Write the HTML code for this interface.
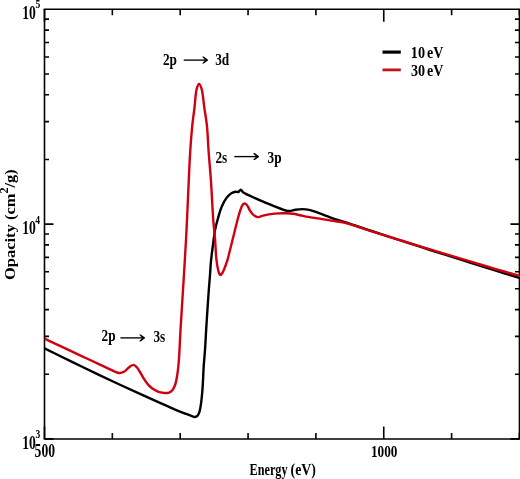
<!DOCTYPE html>
<html><head><meta charset="utf-8"><title>Opacity plot</title>
<style>html,body{margin:0;padding:0;background:#fff;}svg{display:block;}</style>
</head><body>
<svg width="520" height="479" viewBox="0 0 520 479">
<rect width="520" height="479" fill="#fff"/>
<g font-family="'Liberation Serif', serif" font-weight="bold" fill="#000">
<text transform="translate(22.13,18.80) scale(0.7640,1)" font-size="17.80">10</text><text transform="translate(35.53,8.40) scale(0.7619,1)" font-size="12.60">5</text><text transform="translate(22.13,233.60) scale(0.7640,1)" font-size="17.80">10</text><text transform="translate(35.22,223.60) scale(0.7619,1)" font-size="12.60">4</text><text transform="translate(22.13,448.50) scale(0.7640,1)" font-size="17.80">10</text><text transform="translate(35.38,438.30) scale(0.7619,1)" font-size="12.60">3</text><text transform="translate(34.60,457.30) scale(0.7640,1)" font-size="17.80">500</text><text transform="translate(370.94,456.80) scale(0.7791,1)" font-size="17.00">1000</text><text transform="translate(249.57,474.70) scale(0.7137,1)" font-size="17.10">Energy</text><text transform="translate(290.58,474.70) scale(0.8110,1)" font-size="17.10">(eV)</text><text transform="translate(410.86,57.75) scale(0.8356,1)" font-size="17.00">10</text><text transform="translate(426.91,57.75) scale(0.8246,1)" font-size="17.00">eV</text><text transform="translate(410.93,75.75) scale(0.8312,1)" font-size="17.00">30</text><text transform="translate(426.91,75.75) scale(0.8246,1)" font-size="17.00">eV</text><text transform="translate(162.98,64.50) scale(0.7733,1)" font-size="17.20">2p</text><text transform="translate(215.23,64.60) scale(0.7733,1)" font-size="17.20">3d</text><text transform="translate(215.38,162.80) scale(0.7733,1)" font-size="17.20">2s</text><text transform="translate(267.53,162.80) scale(0.7733,1)" font-size="17.20">3p</text><text transform="translate(101.53,341.10) scale(0.7733,1)" font-size="17.20">2p</text><text transform="translate(153.48,341.50) scale(0.7733,1)" font-size="17.20">3s</text><text transform="translate(15.2,280.0) rotate(-90) scale(1.056,1)" font-size="15.6">Opacity (cm<tspan font-size="11.5" dy="-7">2</tspan><tspan dy="7">/g)</tspan></text>
</g>
<path d="M183.7,60.1H205.50" stroke="#000" stroke-width="1.35" fill="none"/><path d="M202.10,56.80 L203.70,56.60 L208.00,59.65 L208.00,60.55 L203.70,63.60 L202.10,63.40 L205.20,60.10 Z" fill="#000"/><path d="M234.3,156.6H256.50" stroke="#000" stroke-width="1.35" fill="none"/><path d="M253.10,153.30 L254.70,153.10 L259.00,156.15 L259.00,157.05 L254.70,160.10 L253.10,159.90 L256.20,156.60 Z" fill="#000"/><path d="M120.4,337.9H142.50" stroke="#000" stroke-width="1.35" fill="none"/><path d="M139.10,334.60 L140.70,334.40 L145.00,337.45 L145.00,338.35 L140.70,341.40 L139.10,341.20 L142.20,337.90 Z" fill="#000"/>
<path d="M44.50,438.90V426.40 M44.50,9.30V21.80 M112.35,438.90V432.90 M112.35,9.30V15.30 M180.20,438.90V432.90 M180.20,9.30V15.30 M248.05,438.90V432.90 M248.05,9.30V15.30 M315.90,438.90V432.90 M315.90,9.30V15.30 M383.75,438.90V426.40 M383.75,9.30V21.80 M451.60,438.90V432.90 M451.60,9.30V15.30 M519.45,438.90V432.90 M519.45,9.30V15.30 M44.50,438.90H53.50 M519.45,438.90H510.45 M44.50,374.24H49.00 M519.45,374.24H514.95 M44.50,336.41H49.00 M519.45,336.41H514.95 M44.50,309.58H49.00 M519.45,309.58H514.95 M44.50,288.76H49.00 M519.45,288.76H514.95 M44.50,271.75H49.00 M519.45,271.75H514.95 M44.50,257.37H49.00 M519.45,257.37H514.95 M44.50,244.92H49.00 M519.45,244.92H514.95 M44.50,233.93H49.00 M519.45,233.93H514.95 M44.50,224.10H53.50 M519.45,224.10H510.45 M44.50,159.44H49.00 M519.45,159.44H514.95 M44.50,121.61H49.00 M519.45,121.61H514.95 M44.50,94.78H49.00 M519.45,94.78H514.95 M44.50,73.96H49.00 M519.45,73.96H514.95 M44.50,56.95H49.00 M519.45,56.95H514.95 M44.50,42.57H49.00 M519.45,42.57H514.95 M44.50,30.12H49.00 M519.45,30.12H514.95 M44.50,19.13H49.00 M519.45,19.13H514.95" stroke="#000" stroke-width="1.6" fill="none"/>
<path d="M43.70,9.30H520.25M43.70,438.90H520.25" stroke="#000" stroke-width="1.5" fill="none"/>
<path d="M44.50,9.30V438.90M519.45,9.30V438.90" stroke="#000" stroke-width="1.6" fill="none"/>
<g clip-path="url(#c)">
<path d="M44.50,348.29 C47.08,349.57 54.50,353.29 60.00,356.00 C66.24,359.08 73.33,362.55 80.00,365.78 C86.66,369.00 93.33,372.19 100.00,375.35 C106.66,378.51 113.33,381.64 120.00,384.74 C126.66,387.83 133.33,390.89 140.00,393.92 C146.66,396.95 153.81,400.16 160.00,402.92 C165.35,405.30 170.36,407.59 175.00,409.53 C178.96,411.18 183.10,412.75 186.10,413.90 C188.14,414.68 189.66,415.25 191.25,415.80 C192.59,416.26 193.90,417.08 195.00,417.00 C195.90,416.93 196.73,416.45 197.40,415.80 C198.22,415.01 198.77,413.75 199.30,412.30 C200.05,410.26 200.43,407.56 200.90,404.50 C201.56,400.23 202.05,394.70 202.50,389.00 C203.05,382.01 203.28,372.61 203.75,365.60 C204.13,359.87 204.61,355.67 205.00,350.00 C205.47,343.21 205.86,334.74 206.30,327.60 C206.70,321.06 207.08,315.07 207.50,308.80 C207.92,302.53 208.36,295.91 208.80,290.00 C209.19,284.72 209.64,279.82 210.00,275.00 C210.33,270.51 210.51,266.24 210.90,262.00 C211.28,257.92 211.83,253.82 212.30,250.00 C212.73,246.51 213.15,243.32 213.60,240.00 C214.05,236.72 214.31,233.70 215.00,230.20 C215.82,226.06 217.20,220.92 218.40,216.80 C219.45,213.20 220.30,210.00 221.70,206.80 C223.10,203.60 224.89,200.02 226.80,197.60 C228.33,195.65 230.16,193.99 231.80,193.00 C233.05,192.25 234.34,191.83 235.50,191.70 C236.48,191.59 237.45,192.29 238.30,192.00 C239.24,191.68 240.02,189.56 240.80,189.60 C241.55,189.64 242.11,191.42 242.90,192.10 C243.65,192.74 244.37,193.05 245.40,193.60 C246.97,194.44 249.14,195.41 251.50,196.50 C254.74,198.00 259.22,200.06 263.10,201.70 C266.93,203.32 270.76,204.81 274.60,206.30 C278.42,207.78 283.34,209.94 286.10,210.60 C287.58,210.95 288.29,211.06 289.60,211.00 C291.30,210.92 293.37,210.11 295.40,209.80 C297.59,209.46 300.00,209.10 302.30,209.10 C304.60,209.10 307.02,209.34 309.20,209.80 C311.24,210.23 312.91,210.98 315.00,211.70 C317.48,212.55 320.25,213.53 323.10,214.60 C326.33,215.81 329.84,217.38 333.40,218.60 C337.13,219.87 340.41,220.60 345.00,222.04 C351.77,224.18 361.66,227.61 370.00,230.37 C378.33,233.13 386.66,235.87 395.00,238.59 C403.33,241.32 411.66,244.02 420.00,246.71 C428.33,249.39 436.66,252.06 445.00,254.71 C453.33,257.36 461.66,260.00 470.00,262.61 C478.33,265.23 486.66,267.82 495.00,270.40 C503.33,272.98 515.83,276.80 520.00,278.08" stroke="#000" stroke-width="2.4" fill="none" stroke-linejoin="round"/>
<path d="M44.50,338.70 C47.08,339.91 54.50,343.38 60.00,345.95 C66.24,348.87 73.33,352.19 80.00,355.30 C86.67,358.41 94.48,362.02 100.00,364.60 C103.91,366.43 107.24,368.01 110.00,369.30 C111.95,370.21 113.41,370.96 115.00,371.60 C116.39,372.16 117.58,372.93 119.00,373.00 C120.56,373.08 122.41,372.63 124.00,371.80 C125.84,370.84 127.48,368.40 129.20,367.20 C130.64,366.20 132.17,364.80 133.50,364.90 C134.76,364.99 135.96,366.41 137.00,367.50 C138.16,368.72 138.97,370.33 140.00,372.00 C141.23,373.99 142.54,376.72 143.80,378.70 C144.87,380.38 145.91,381.85 147.00,383.20 C147.98,384.42 148.88,385.46 150.00,386.50 C151.20,387.60 152.62,388.73 154.00,389.60 C155.29,390.41 156.56,391.08 158.00,391.60 C159.54,392.16 161.28,392.60 163.00,392.80 C164.78,393.01 166.87,393.32 168.50,392.80 C170.05,392.31 171.49,391.22 172.60,389.90 C173.87,388.39 174.64,386.28 175.40,384.00 C176.34,381.15 176.84,377.63 177.40,374.00 C178.05,369.74 178.45,365.55 178.90,360.00 C179.55,351.89 179.77,342.68 180.50,330.00 C181.76,308.04 184.37,270.01 186.00,240.00 C187.63,210.01 189.00,170.31 190.30,150.00 C190.97,139.59 191.45,133.81 192.20,126.40 C192.87,119.77 193.75,113.87 194.50,107.60 C195.25,101.33 195.46,92.94 196.70,88.80 C197.36,86.60 198.29,84.01 199.10,84.00 C199.92,83.99 200.89,86.59 201.60,88.80 C202.93,92.94 203.40,101.33 204.30,107.60 C205.20,113.87 206.31,119.76 207.00,126.40 C207.77,133.81 207.90,141.66 208.50,150.00 C209.17,159.40 210.22,170.20 210.90,180.00 C211.55,189.39 212.03,199.92 212.50,207.60 C212.83,213.11 213.01,216.88 213.40,221.80 C213.83,227.14 214.53,232.69 215.00,238.50 C215.51,244.84 215.76,253.20 216.30,258.40 C216.65,261.77 216.98,264.09 217.50,266.70 C217.97,269.07 218.49,271.98 219.20,273.40 C219.59,274.18 220.01,275.00 220.50,275.00 C221.11,275.01 221.94,273.57 222.60,272.50 C223.51,271.02 224.31,268.72 225.10,266.70 C225.95,264.54 226.75,262.40 227.50,259.90 C228.40,256.93 229.17,253.31 230.00,250.00 C230.84,246.68 231.67,243.33 232.50,240.00 C233.33,236.67 234.17,233.33 235.00,230.00 C235.83,226.67 236.64,223.22 237.50,220.00 C238.31,216.98 239.09,213.90 240.00,211.25 C240.78,208.97 241.53,206.30 242.50,205.00 C243.08,204.22 243.71,203.54 244.40,203.50 C245.16,203.45 246.12,204.19 246.90,205.00 C248.05,206.19 248.91,208.94 250.00,210.60 C250.96,212.06 251.91,213.45 253.00,214.50 C253.96,215.42 255.09,216.28 256.10,216.70 C256.91,217.03 257.58,217.17 258.50,217.10 C259.80,217.00 261.20,216.07 263.10,215.60 C266.05,214.87 270.75,213.98 274.60,213.60 C278.42,213.22 282.76,213.22 286.10,213.30 C288.69,213.36 290.70,213.49 293.00,213.80 C295.33,214.12 297.58,214.70 300.00,215.20 C302.60,215.73 305.16,216.37 308.10,216.90 C311.59,217.52 315.77,217.98 319.60,218.60 C323.44,219.22 327.08,219.93 331.10,220.60 C335.51,221.34 339.74,221.59 345.00,222.84 C352.17,224.55 361.66,228.15 370.00,230.77 C378.33,233.40 386.66,236.01 395.00,238.59 C403.33,241.18 411.66,243.75 420.00,246.31 C428.33,248.86 436.66,251.40 445.00,253.91 C453.33,256.43 461.66,258.93 470.00,261.41 C478.33,263.89 486.66,266.36 495.00,268.80 C503.33,271.25 515.83,274.87 520.00,276.08" stroke="#d00010" stroke-width="2.4" fill="none" stroke-linejoin="round"/>
</g>
<defs><clipPath id="c"><rect x="44.5" y="9.3" width="476.95000000000005" height="429.59999999999997"/></clipPath></defs>
<path d="M382.5,52.1H400.8" stroke="#000" stroke-width="3.2"/>
<path d="M382.5,69.9H400.8" stroke="#c0141c" stroke-width="2.8"/>
</svg>
</body></html>
